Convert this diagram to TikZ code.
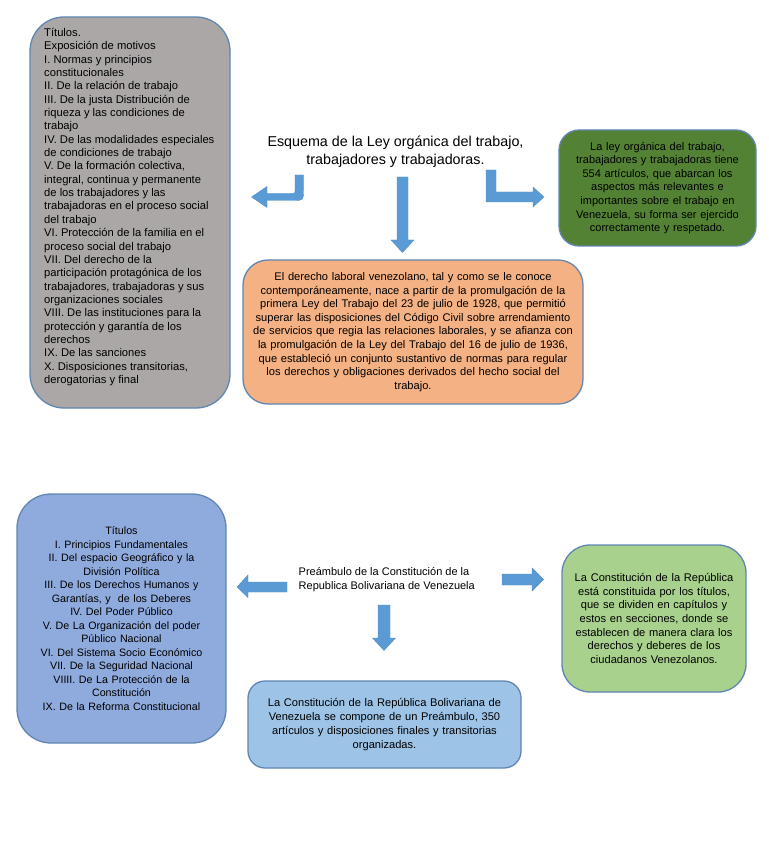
\documentclass[tikz,border=0pt]{standalone}
\usepackage{fontspec}
\setmainfont{Liberation Sans}
\definecolor{bordercol}{RGB}{96,134,178}
\definecolor{grayfill}{RGB}{171,167,167}
\definecolor{darkgreen}{RGB}{84,130,53}
\definecolor{orangefill}{RGB}{244,177,131}
\definecolor{bluefill}{RGB}{143,170,220}
\definecolor{lightgreen}{RGB}{169,209,142}
\definecolor{lightblue}{RGB}{157,195,230}
\definecolor{arrowblue}{RGB}{91,155,213}
\tikzset{
  box/.style={draw=bordercol, line width=1.3pt, rounded corners=26pt, inner sep=0pt, text=black},
  blockarrow/.style={fill=arrowblue, draw=arrowblue!92!black, line width=0.4pt},
}
\begin{document}
\begin{tikzpicture}[x=1pt,y=-1pt]
\useasboundingbox (0,0) rectangle (768,866);
\fill[white] (0,0) rectangle (768,866);

% ---------- top section ----------
\node[box, fill=grayfill, rounded corners=34pt, minimum width=200pt, minimum height=391pt] (titulos) at (130,212.5) {};
\node[anchor=west, align=left, inner sep=0pt, font=\fontsize{11.2}{13.35}\selectfont] (titulostext) at (44,207)
{Títulos.\\
Exposición de motivos\\
I. Normas y principios\\
constitucionales\\
II. De la relación de trabajo\\
III. De la justa Distribución de\\
riqueza y las condiciones de\\
trabajo\\
IV. De las modalidades especiales\\
de condiciones de trabajo\\
V. De la formación colectiva,\\
integral, continua y permanente\\
de los trabajadores y las\\
trabajadoras en el proceso social\\
del trabajo\\
VI. Protección de la familia en el\\
proceso social del trabajo\\
VII. Del derecho de la\\
participación protagónica de los\\
trabajadores, trabajadoras y sus\\
organizaciones sociales\\
VIII. De las instituciones para la\\
protección y garantía de los\\
derechos\\
IX. De las sanciones\\
X. Disposiciones transitorias,\\
derogatorias y final};

\node[align=center, font=\fontsize{14.3}{18}\selectfont] (esquema) at (395.5,152)
{Esquema de la Ley orgánica del trabajo,\\ trabajadores y trabajadoras.};

\node[box, fill=darkgreen, rounded corners=20pt, minimum width=197pt, minimum height=116pt, text width=185pt, align=center,
      font=\fontsize{11}{13.6}\selectfont] (leyorg) at (657.5,188)
{La ley orgánica del trabajo,\\
trabajadores y trabajadoras tiene\\
554 artículos, que abarcan los\\
aspectos más relevantes e\\
importantes sobre el trabajo en\\
Venezuela, su forma ser ejercido\\
correctamente y respetado.};

\node[box, fill=orangefill, rounded corners=25pt, minimum width=340pt, minimum height=144pt, text width=330pt, align=center,
      font=\fontsize{11.1}{13.6}\selectfont] (derecho) at (413,332)
{El derecho laboral venezolano, tal y como se le conoce\\
contemporáneamente, nace a partir de la promulgación de la\\
primera Ley del Trabajo del 23 de julio de 1928, que permitió\\
superar las disposiciones del Código Civil sobre arrendamiento\\
de servicios que regia las relaciones laborales, y se afianza con\\
la promulgación de la Ley del Trabajo del 16 de julio de 1936,\\
que estableció un conjunto sustantivo de normas para regular\\
los derechos y obligaciones derivados del hecho social del\\
trabajo.};

% top arrows
\filldraw[blockarrow] (295,175) -- (303.5,175) -- (303.5,190) .. controls (303.5,200.5) .. (293,200.5)
  -- (267,200.5) -- (267,207.5) -- (251.5,197) -- (267,186.5) -- (267,193.5) -- (291,193.5)
  .. controls (295,193.5) .. (295,189.5) -- cycle;
\filldraw[blockarrow] (397,177) -- (408,177) -- (408,240) -- (414,240) -- (402.5,252.5) -- (391,240) -- (397,240) -- cycle;
\filldraw[blockarrow] (486,170) -- (496,170) -- (496,192) -- (533,192) -- (533,187) -- (544,197)
  -- (533,207) -- (533,202) -- (486,202) -- cycle;

% ---------- bottom section ----------
\node[box, fill=bluefill, rounded corners=34pt, minimum width=209pt, minimum height=249pt, text width=195pt, align=center,
      font=\fontsize{10.7}{13.5}\selectfont] (titulosconst) at (121.5,618.5)
{Títulos\\
I. Principios Fundamentales\\
II. Del espacio Geográfico y la\\
División Política\\
III. De los Derechos Humanos y\\
Garantías, y \ de los Deberes\\
IV. Del Poder Público\\
V. De La Organización del poder\\
Público Nacional\\
VI. Del Sistema Socio Económico\\
VII. De la Seguridad Nacional\\
VIIII. De La Protección de la\\
Constitución\\
IX. De la Reforma Constitucional};

\node[anchor=west, align=left, inner sep=0pt, font=\fontsize{11}{13.2}\selectfont] (preambulo) at (298.5,579.5)
{Preámbulo de la Constitución de la\\ Republica Bolivariana de Venezuela};

\node[box, fill=lightgreen, rounded corners=28pt, minimum width=184pt, minimum height=147pt, text width=174pt, align=center,
      font=\fontsize{11.1}{13.7}\selectfont] (constrep) at (654,618.5)
{La Constitución de la República\\
está constituida por los títulos,\\
que se dividen en capítulos y\\
estos en secciones, donde se\\
establecen de manera clara los\\
derechos y deberes de los\\
ciudadanos Venezolanos.};

\node[box, fill=lightblue, rounded corners=17pt, minimum width=273pt, minimum height=87pt, text width=263pt, align=center,
      font=\fontsize{11.1}{14}\selectfont] (compone) at (384.5,724.5)
{La Constitución de la República Bolivariana de\\
Venezuela se compone de un Preámbulo, 350\\
artículos y disposiciones finales y transitorias\\
organizadas.};

% bottom arrows
\filldraw[blockarrow] (287,582) -- (287,592) -- (248,592) -- (248,597.5) -- (237,587) -- (248,575) -- (248,582) -- cycle;
\filldraw[blockarrow] (502,574) -- (532,574) -- (532,568) -- (543.5,579.5) -- (532,591) -- (532,585) -- (502,585) -- cycle;
\filldraw[blockarrow] (378,605) -- (390,605) -- (390,638) -- (395.5,638) -- (384,650.5) -- (372.5,638) -- (378,638) -- cycle;
\end{tikzpicture}
\end{document}
